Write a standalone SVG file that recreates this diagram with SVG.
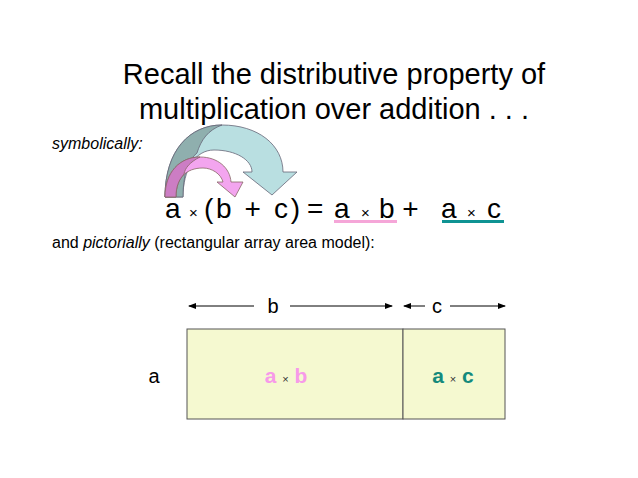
<svg xmlns="http://www.w3.org/2000/svg" width="638" height="478" viewBox="0 0 638 478">
<defs>
<style>
text{font-family:"Liberation Sans",Arial,sans-serif;fill:#000}
.t{font-size:29px;text-anchor:middle}
.s{font-size:16px}
.eq{font-size:28px}
.x{font-size:15px}
.dl{stroke:#000;stroke-width:1}
</style>
<marker id="ah" markerWidth="8" markerHeight="6" refX="7" refY="3" orient="auto" markerUnits="userSpaceOnUse"><path d="M0,0 L8,3 L0,6 Z" fill="#000"/></marker>
</defs>
<rect width="638" height="478" fill="#fff"/>
<text class="t" x="334" y="84">Recall the distributive property of</text>
<text class="t" x="334" y="119">multiplication over addition . . .</text>
<text class="s" x="52" y="149" font-style="italic">symbolically:</text>
<g id="bigArrow">
<path d="M165,197 C165,150 190,125 222,125 C258,125 283,145 283,172 L297,172 L272,195 L243,172 L252,172 C252,160 236,150 214,150 C195,150 183,170 183,197 Z" fill="#b9dfe1" stroke="#667" stroke-width="0.8"/>
<path d="M165,197 C165,150 190,125 222,125 C208,130 201,140 197,153 C188,160 183,175 183,197 Z" fill="#8fafae" stroke="#667" stroke-width="0.8"/>
</g>
<g id="smallArrow">
<path d="M165,197 C165,172 180,157 200,157 C218,157 230,168 231,182 L243,182 L235,197 L217,182 L223,182 C221,174 212,168 203,168 C186,168 176,178 176,197 Z" fill="#f3a5ef" stroke="#866" stroke-width="0.8"/>
<path d="M165,197 C165,172 180,157 200,157 C190,162 185,168 184,174 C179,180 176,186 176,197 Z" fill="#cc7dc4" stroke="#866" stroke-width="0.8"/>
</g>
<g id="equation">
<text class="eq" x="165" y="218">a</text>
<text class="x" x="189" y="218">×</text>
<text class="eq" x="204" y="218" textLength="96" lengthAdjust="spacing">(b + c)</text>
<text class="eq" x="307" y="218">=</text>
<text class="eq" x="334" y="218">a</text>
<text class="x" x="361" y="218">×</text>
<text class="eq" x="379" y="218">b +</text>
<text class="eq" x="441" y="218">a</text>
<text class="x" x="467" y="218">×</text>
<text class="eq" x="487" y="218">c</text>
</g>
<rect x="334" y="220" width="63" height="3" fill="#f5a6d8"/>
<rect x="442" y="220" width="62" height="3" fill="#0f9393"/>
<text class="s" x="52" y="248">and <tspan font-style="italic">pictorially</tspan> (rectangular array area model):</text>
<g id="connectors">
<line class="dl" x1="254" y1="306" x2="189" y2="306" marker-end="url(#ah)"/>
<line class="dl" x1="290" y1="306" x2="392" y2="306" marker-end="url(#ah)"/>
<line class="dl" x1="425" y1="306" x2="404" y2="306" marker-end="url(#ah)"/>
<line class="dl" x1="450" y1="306" x2="505" y2="306" marker-end="url(#ah)"/>
</g>
<text x="273" y="313" text-anchor="middle" style="font-size:20px">b</text>
<text x="437" y="313" text-anchor="middle" style="font-size:20px">c</text>
<text x="154" y="383" text-anchor="middle" style="font-size:20px">a</text>
<g id="ab">
<rect x="187" y="329" width="216" height="90" fill="#f5f9d0" stroke="#555" stroke-width="1"/>
<text x="286" y="383" text-anchor="middle" style="font-size:21px;font-weight:bold;fill:#f79ae9">a <tspan style="font-size:11px;fill:#333;font-weight:normal">×</tspan> b</text>
</g>
<g id="ac">
<rect x="403" y="329" width="102" height="90" fill="#f5f9d0" stroke="#555" stroke-width="1"/>
<text x="453" y="383" text-anchor="middle" style="font-size:21px;font-weight:bold;fill:#148a7c">a <tspan style="font-size:11px;fill:#333;font-weight:normal">×</tspan> c</text>
</g>
</svg>
